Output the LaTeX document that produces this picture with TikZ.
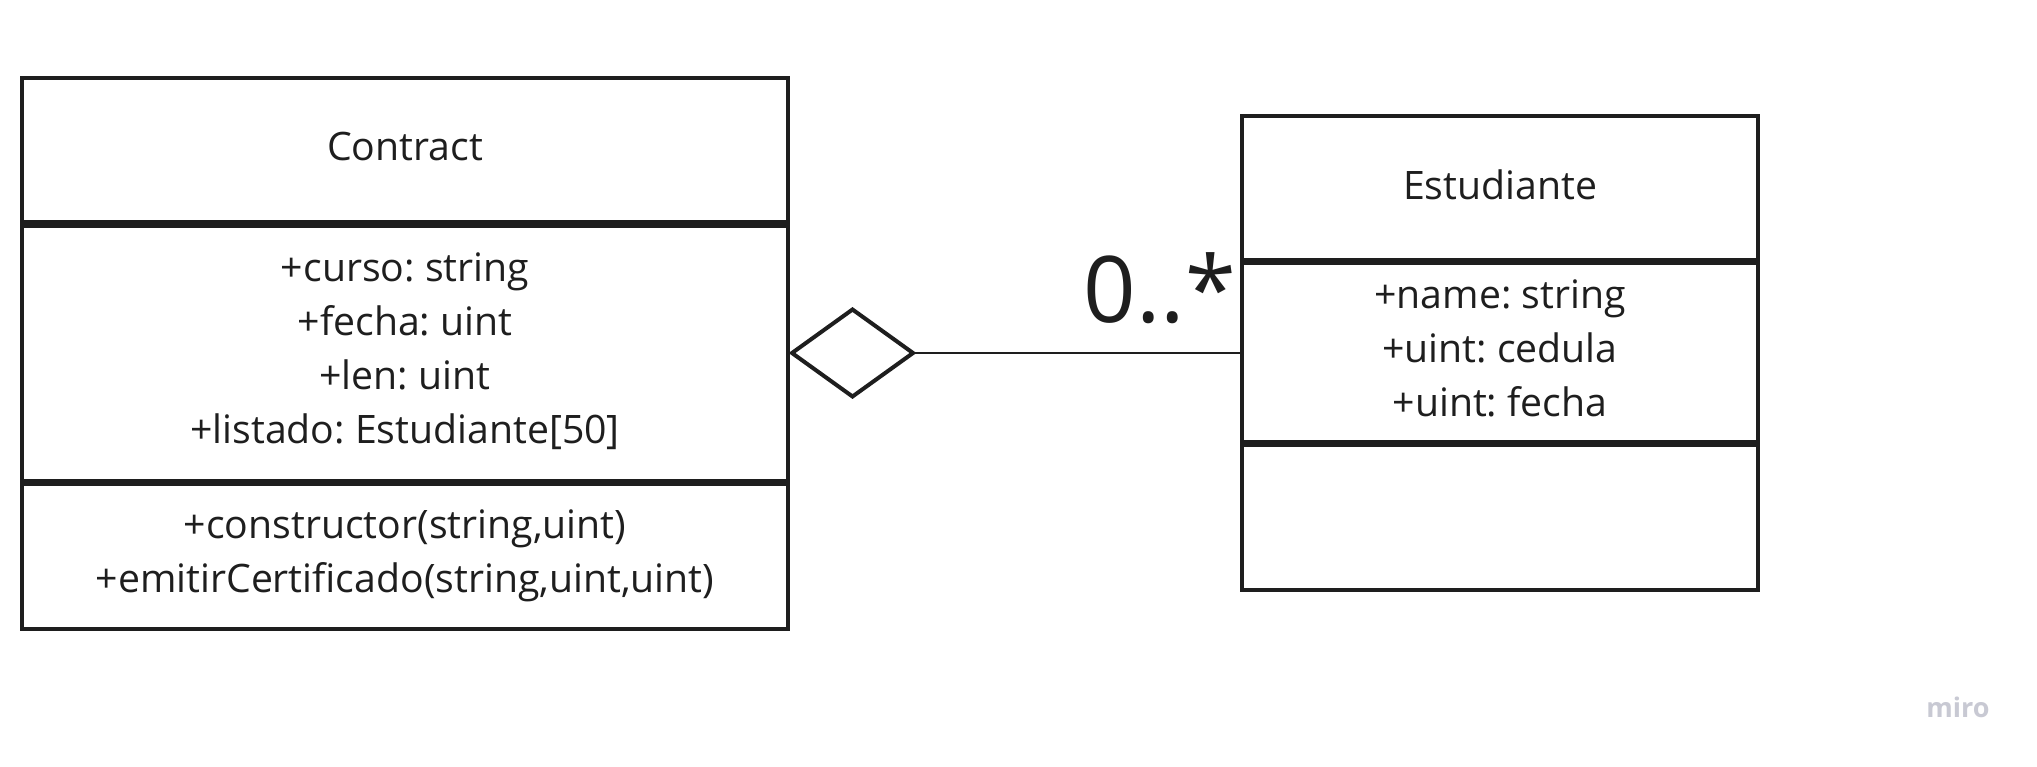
\documentclass[tikz,border=0pt]{standalone}
\usepackage{fontspec}
\setmainfont{Open Sans}
\usetikzlibrary{shapes.geometric}
\definecolor{ink}{HTML}{1E1E1E}
\definecolor{wm}{HTML}{C8C9D3}
\tikzset{
  umlbox/.style={draw=ink, line width=4pt, inner sep=0pt, outer sep=0pt, anchor=north west, fill=white},
  divline/.style={draw=ink, line width=3.6pt},
  txt/.style={font=\fontsize{39.2}{46}\selectfont, text=ink, inner sep=0pt, anchor=base},
  aggdiamond/.style={draw=ink, line width=4pt, shape=diamond, inner sep=0pt, outer sep=0pt, minimum width=121pt, minimum height=87pt, anchor=west},
  conn/.style={draw=ink, line width=2pt}
}
\frenchspacing
\begin{document}
\begin{tikzpicture}[x=1pt,y=-1pt]
\fill[white] (0,0) rectangle (2037,766);
\useasboundingbox (0,0) rectangle (2037,766);
% Contract class
\node[umlbox, minimum width=766pt, minimum height=551pt] (contract) at (22,78) {};
\draw[divline] (22,222.2) -- (788,222.2);
\draw[divline] (22,225.8) -- (788,225.8);
\draw[divline] (22,480.7) -- (788,480.7);
\draw[divline] (22,484.3) -- (788,484.3);
\node[txt] (cname) at (405,160.4) {Contract};
\node[txt] (ca1) at (405,281.7) {+curso: string};
\node[txt] (ca2) at (405,335.6) {+fecha: uint};
\node[txt] (ca3) at (405,389.4) {+len: uint};
\node[txt] (ca4) at (405,443.3) {+listado: Estudiante[50]};
\node[txt] (cm1) at (405,538.3) {+constructor(string,uint)};
\node[txt] (cm2) at (405,592.5) {+emitirCertificado(string,uint,uint)};
% Estudiante class
\node[umlbox, minimum width=516pt, minimum height=474pt] (estud) at (1242,115.5) {};
\draw[divline] (1242,259.7) -- (1758,259.7);
\draw[divline] (1242,263.3) -- (1758,263.3);
\draw[divline] (1242,441.9) -- (1758,441.9);
\draw[divline] (1242,445.5) -- (1758,445.5);
\node[txt] (ename) at (1500,199.3) {Estudiante};
\node[txt] (ea1) at (1500,308.3) {+name: string};
\node[txt] (ea2) at (1500,362.7) {+uint: cedula};
\node[txt] (ea3) at (1500,416.9) {+uint: fecha};
% aggregation
\node[aggdiamond] (agg) at (792,353) {};
\coordinate (eend) at (1240,353);
\draw[conn] (agg.east) -- (eend);
\node[font=\fontsize{92}{100}\selectfont, text=ink, inner sep=0pt, anchor=base east] (mult) at (1236,322) {0..*};
% watermark
\node[font=\fontsize{27}{30}\selectfont\bfseries, text=wm, inner sep=0pt, anchor=base] (miro) at (1958,717) {miro};
\end{tikzpicture}
\end{document}
